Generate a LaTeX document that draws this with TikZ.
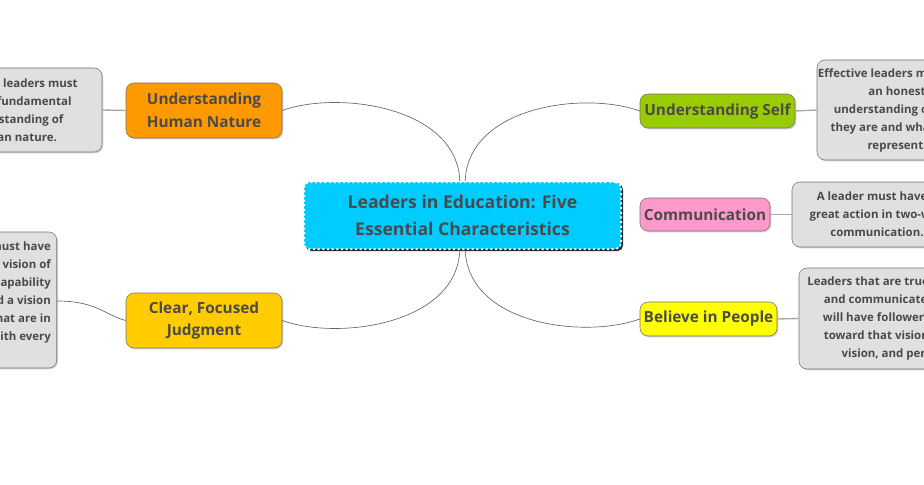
\documentclass[tikz,border=0pt]{standalone}
\usepackage{fontspec}
\setmainfont{Open Sans}
\usetikzlibrary{shadows}
\definecolor{txt}{HTML}{4A4A4A}
\definecolor{nb}{HTML}{E0E0E0}
\begin{document}
\begin{tikzpicture}[x=0.75pt,y=-0.75pt,
 br/.style={draw=black!55,rounded corners=6pt,text=txt,font=\bfseries\fontsize{11.5}{17}\selectfont,align=center,drop shadow={shadow xshift=1pt,shadow yshift=-1pt,opacity=0.35},inner sep=0pt},
 note/.style={draw=black!55,fill=nb,rounded corners=6pt,text=txt,font=\bfseries\fontsize{8.6}{13.5}\selectfont,align=center,drop shadow={shadow xshift=1pt,shadow yshift=-1pt,opacity=0.35},inner sep=0pt},
 con/.style={draw=black!60,line width=0.5pt},
 nl/.style={draw=black!35,line width=1pt}]
\useasboundingbox (0,0) rectangle (924,485);
\clip (0,0) rectangle (924,485);
\fill[black!85,rounded corners=4pt] (306,184) rectangle (623,251);
\node[text=txt,fill={rgb,255:red,0;green,204;blue,255},draw=white,dotted,line width=1.5pt,rounded corners=4pt,minimum width=317*0.75pt,minimum height=67*0.75pt,align=center,inner sep=0pt,font=\bfseries\fontsize{13.2}{20.5}\selectfont] (c) at (462.5,215.5) {Leaders in Education: Five\\Essential Characteristics};
\node[br,fill={rgb,255:red,255;green,153;blue,0},minimum width=156*0.75pt,minimum height=55*0.75pt] (hn) at (204,110.5) {Understanding\\Human Nature};
\node[br,fill={rgb,255:red,255;green,204;blue,0},minimum width=156*0.75pt,minimum height=55*0.75pt] (cj) at (204,320.5) {Clear, Focused\\Judgment};
\node[br,fill={rgb,255:red,153;green,204;blue,0},minimum width=155*0.75pt,minimum height=34*0.75pt] (us) at (717.5,111) {Understanding Self};
\node[br,fill={rgb,255:red,255;green,153;blue,204},minimum width=130*0.75pt,minimum height=33*0.75pt] (cm) at (705,214.5) {Communication};
\node[br,fill={rgb,255:red,255;green,255;blue,0},minimum width=137*0.75pt,minimum height=34*0.75pt] (bp) at (708.5,319) {Believe in People};
\node[note,minimum width=176*0.75pt,minimum height=84*0.75pt] (n1) at (14,110) {Effective leaders must\\have a fundamental\\understanding of\\human nature.};
\node[note,minimum width=120*0.75pt,minimum height=136*0.75pt,align=right,anchor=east] (n2) at (57,300) {Leaders must have\\a vision of\\their capability\\and a vision\\that are in\\line with every\\};
\node[note,minimum width=160*0.75pt,minimum height=100*0.75pt] (n3) at (897,110) {Effective leaders must have\\an honest\\understanding of who\\they are and what they\\represent.};
\node[note,minimum width=170*0.75pt,minimum height=65*0.75pt] (n4) at (877,214.5) {A leader must have a\\great action in two-way\\communication.};
\node[note,minimum width=200*0.75pt,minimum height=101*0.75pt] (n5) at (899,318.5) {Leaders that are true to a vision\\and communicate a vision\\will have followers moving\\toward that vision, for the\\vision, and personal};
\draw[con] ([xshift=-2pt]c.north) .. controls +(-3,-75) and +(55,-20) .. (hn.east);
\draw[con] ([xshift=2pt]c.north) .. controls +(3,-75) and +(-55,-20) .. (us.west);
\draw[con] ([xshift=-2pt]c.south) .. controls +(-3,75) and +(55,20) .. (cj.east);
\draw[con] ([xshift=2pt]c.south) .. controls +(3,75) and +(-55,20) .. (bp.west);
\draw[nl] (n1.east) -- (hn.west);
\draw[con] (n2.east |- 0,301) .. controls +(40,0) and +(-20,-5) .. (cj.west);
\draw[nl] (us.east) -- (n3.west);
\draw[nl] (cm.east) -- (n4.west);
\draw[nl] (bp.east) -- (n5.west);
\end{tikzpicture}
\end{document}
